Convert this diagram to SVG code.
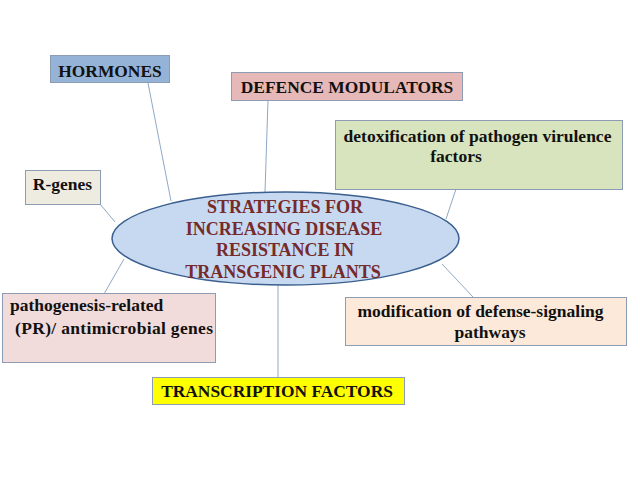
<svg xmlns="http://www.w3.org/2000/svg" width="638" height="478" viewBox="0 0 638 478">
<style>
text{font-family:"Liberation Serif","Times New Roman",serif;font-weight:bold;font-size:17.4px;fill:#111}
.s{font-size:17.5px}
.box{stroke:#8c9cb4;stroke-width:1}
.c{stroke:#8fa9c6;stroke-width:1;fill:none}
.m{fill:#762a2a;text-anchor:middle;font-size:18px}
</style>
<rect width="638" height="478" fill="#fff"/>
<g id="connectors">
<line class="c" x1="148" y1="83" x2="171" y2="201"/>
<line class="c" x1="268" y1="100" x2="265" y2="192"/>
<line class="c" x1="456" y1="189" x2="446" y2="219"/>
<line class="c" x1="100" y1="204" x2="115" y2="222"/>
<line class="c" x1="124" y1="259" x2="104" y2="294"/>
<line class="c" x1="442" y1="264" x2="473" y2="297"/>
<line class="c" x1="278" y1="285" x2="278" y2="377"/>
</g>
<g id="center">
<ellipse cx="285.5" cy="238.5" rx="173.5" ry="46.5" fill="#c6d9f1" stroke="#3b5f8e" stroke-width="1.5"/>
<text class="m" x="285" y="213">STRATEGIES FOR</text>
<text class="m" x="284" y="234.5">INCREASING DISEASE</text>
<text class="m" x="285" y="256">RESISTANCE IN</text>
<text class="m" x="283" y="277.5">TRANSGENIC PLANTS</text>
</g>
<g id="hormones">
<rect class="box" x="50.5" y="55.5" width="119" height="27" fill="#95b3d7" stroke="#5d7ba6"/>
<text x="110" y="77" text-anchor="middle">HORMONES</text>
</g>
<g id="defence">
<rect class="box" x="231.5" y="72.5" width="231" height="28" fill="#e6b9b8"/>
<text x="347" y="93" text-anchor="middle">DEFENCE MODULATORS</text>
</g>
<g id="detox">
<rect class="box" x="335.5" y="120.5" width="287" height="69" fill="#d7e4bd"/>
<text class="s" x="477.5" y="142" text-anchor="middle">detoxification of pathogen virulence</text>
<text class="s" x="456" y="161.5" text-anchor="middle">factors</text>
</g>
<g id="rgenes">
<rect class="box" x="25.5" y="170.5" width="75" height="34" fill="#eeece1"/>
<text class="s" x="62.5" y="190" text-anchor="middle">R-genes</text>
</g>
<g id="pr">
<rect class="box" x="2.5" y="293.5" width="213" height="69" fill="#f2dcdb"/>
<text class="s" x="10" y="311">pathogenesis-related</text>
<text class="s" x="15" y="334" textLength="198">(PR)/ antimicrobial genes</text>
</g>
<g id="modification">
<rect class="box" x="345.5" y="297.5" width="281" height="48" fill="#fde9d9"/>
<text class="s" x="480.5" y="317" text-anchor="middle">modification of defense-signaling</text>
<text class="s" x="490" y="338" text-anchor="middle">pathways</text>
</g>
<g id="transcription">
<rect class="box" x="152.5" y="377.5" width="252" height="27" fill="#ffff00" stroke="#b8a44a"/>
<text x="277" y="397" text-anchor="middle">TRANSCRIPTION FACTORS</text>
</g>
</svg>
